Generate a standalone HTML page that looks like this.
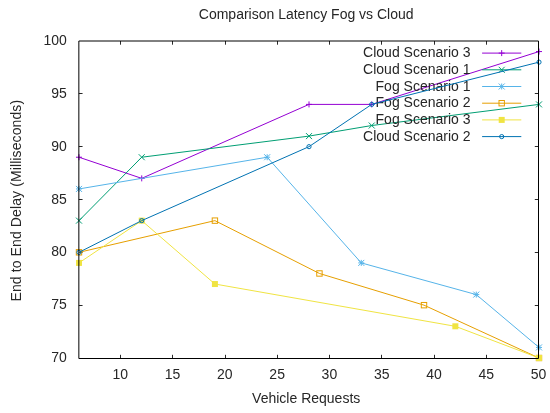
<!DOCTYPE html>
<html><head><meta charset="utf-8"><title>Comparison Latency Fog vs Cloud</title>
<style>html,body{margin:0;padding:0;background:#fff}svg{display:block}text{font-family:"Liberation Sans",Arial,sans-serif;font-size:14px;fill:#262626}</style></head><body>
<svg width="550" height="413" viewBox="0 0 550 413">
<rect width="550" height="413" fill="#fff"/>
<path d="M78.85,305.50h3.7M538.5,305.50h-3.7M78.85,252.50h3.7M538.5,252.50h-3.7M78.85,199.50h3.7M538.5,199.50h-3.7M78.85,146.50h3.7M538.5,146.50h-3.7M78.85,93.50h3.7M538.5,93.50h-3.7M120.50,358.5v-3.7M120.50,41.0v3.7M172.50,358.5v-3.7M172.50,41.0v3.7M225.50,358.5v-3.7M225.50,41.0v3.7M277.50,358.5v-3.7M277.50,41.0v3.7M329.50,358.5v-3.7M329.50,41.0v3.7M381.50,358.5v-3.7M381.50,41.0v3.7M434.50,358.5v-3.7M434.50,41.0v3.7M486.50,358.5v-3.7M486.50,41.0v3.7" stroke="#111" stroke-width="0.9" fill="none"/>
<text x="66.9" y="362.00" text-anchor="end">70</text>
<text x="66.9" y="309.17" text-anchor="end">75</text>
<text x="66.9" y="256.33" text-anchor="end">80</text>
<text x="66.9" y="203.50" text-anchor="end">85</text>
<text x="66.9" y="150.67" text-anchor="end">90</text>
<text x="66.9" y="97.83" text-anchor="end">95</text>
<text x="66.9" y="45.00" text-anchor="end">100</text>
<text x="120.32" y="379.3" text-anchor="middle">10</text>
<text x="172.59" y="379.3" text-anchor="middle">15</text>
<text x="224.86" y="379.3" text-anchor="middle">20</text>
<text x="277.14" y="379.3" text-anchor="middle">25</text>
<text x="329.41" y="379.3" text-anchor="middle">30</text>
<text x="381.68" y="379.3" text-anchor="middle">35</text>
<text x="433.95" y="379.3" text-anchor="middle">40</text>
<text x="486.23" y="379.3" text-anchor="middle">45</text>
<text x="538.50" y="379.3" text-anchor="middle">50</text>
<text x="306.2" y="19.4" text-anchor="middle">Comparison Latency Fog vs Cloud</text>
<text x="306.2" y="403.3" text-anchor="middle">Vehicle Requests</text>
<text transform="translate(21.1,200.7) rotate(-90)" text-anchor="middle" textLength="201.7" lengthAdjust="spacing">End to End Delay (Milliseconds)</text>
<text x="470.5" y="57.10" text-anchor="end">Cloud Scenario 3</text>
<path d="M482.1,53.10H521.3" stroke="#9400d3" fill="none"/>
<path d="M79.00,157.23L141.73,178.37L309.00,104.40L371.73,104.40L539.00,51.57" stroke="#9400d3" fill="none" stroke-linejoin="round"/>
<path d="M76.00,157.23H82.00M79.00,154.23V160.23" stroke="#9400d3" fill="none"/>
<path d="M138.73,178.37H144.73M141.73,175.37V181.37" stroke="#9400d3" fill="none"/>
<path d="M306.00,104.40H312.00M309.00,101.40V107.40" stroke="#9400d3" fill="none"/>
<path d="M368.73,104.40H374.73M371.73,101.40V107.40" stroke="#9400d3" fill="none"/>
<path d="M536.00,51.57H542.00M539.00,48.57V54.57" stroke="#9400d3" fill="none"/>
<path d="M498.70,53.10H504.70M501.70,50.10V56.10" stroke="#9400d3" fill="none"/>
<text x="470.5" y="73.80" text-anchor="end">Cloud Scenario 1</text>
<path d="M482.1,69.80H521.3" stroke="#009e73" fill="none"/>
<path d="M79.00,220.63L141.73,157.23L309.00,136.10L371.73,125.53L539.00,104.40" stroke="#009e73" fill="none" stroke-linejoin="round"/>
<path d="M76.00,217.63L82.00,223.63M76.00,223.63L82.00,217.63" stroke="#009e73" fill="none"/>
<path d="M138.73,154.23L144.73,160.23M138.73,160.23L144.73,154.23" stroke="#009e73" fill="none"/>
<path d="M306.00,133.10L312.00,139.10M306.00,139.10L312.00,133.10" stroke="#009e73" fill="none"/>
<path d="M368.73,122.53L374.73,128.53M368.73,128.53L374.73,122.53" stroke="#009e73" fill="none"/>
<path d="M536.00,101.40L542.00,107.40M536.00,107.40L542.00,101.40" stroke="#009e73" fill="none"/>
<path d="M498.70,66.80L504.70,72.80M498.70,72.80L504.70,66.80" stroke="#009e73" fill="none"/>
<text x="470.5" y="90.50" text-anchor="end">Fog Scenario 1</text>
<path d="M482.1,86.50H521.3" stroke="#56b4e9" fill="none"/>
<path d="M79.00,188.93L267.18,157.23L361.27,262.90L476.27,294.60L539.00,347.43" stroke="#56b4e9" fill="none" stroke-linejoin="round"/>
<path d="M76.00,188.93H82.00M79.00,185.93V191.93M76.00,185.93L82.00,191.93M76.00,191.93L82.00,185.93" stroke="#56b4e9" fill="none"/>
<path d="M264.18,157.23H270.18M267.18,154.23V160.23M264.18,154.23L270.18,160.23M264.18,160.23L270.18,154.23" stroke="#56b4e9" fill="none"/>
<path d="M358.27,262.90H364.27M361.27,259.90V265.90M358.27,259.90L364.27,265.90M358.27,265.90L364.27,259.90" stroke="#56b4e9" fill="none"/>
<path d="M473.27,294.60H479.27M476.27,291.60V297.60M473.27,291.60L479.27,297.60M473.27,297.60L479.27,291.60" stroke="#56b4e9" fill="none"/>
<path d="M536.00,347.43H542.00M539.00,344.43V350.43M536.00,344.43L542.00,350.43M536.00,350.43L542.00,344.43" stroke="#56b4e9" fill="none"/>
<path d="M498.70,86.50H504.70M501.70,83.50V89.50M498.70,83.50L504.70,89.50M498.70,89.50L504.70,83.50" stroke="#56b4e9" fill="none"/>
<text x="470.5" y="107.20" text-anchor="end">Fog Scenario 2</text>
<path d="M482.1,103.20H521.3" stroke="#e69f00" fill="none"/>
<path d="M79.00,252.33L214.91,220.63L319.45,273.47L424.00,305.17L539.00,358.00" stroke="#e69f00" fill="none" stroke-linejoin="round"/>
<rect x="76.30" y="249.63" width="5.40" height="5.40" stroke="#e69f00" fill="none"/>
<rect x="212.21" y="217.93" width="5.40" height="5.40" stroke="#e69f00" fill="none"/>
<rect x="316.75" y="270.77" width="5.40" height="5.40" stroke="#e69f00" fill="none"/>
<rect x="421.30" y="302.47" width="5.40" height="5.40" stroke="#e69f00" fill="none"/>
<rect x="536.30" y="355.30" width="5.40" height="5.40" stroke="#e69f00" fill="none"/>
<rect x="499.00" y="100.50" width="5.40" height="5.40" stroke="#e69f00" fill="none"/>
<text x="470.5" y="123.90" text-anchor="end">Fog Scenario 3</text>
<path d="M482.1,119.90H521.3" stroke="#f0e442" fill="none"/>
<path d="M79.00,262.90L141.73,220.63L214.91,284.03L455.36,326.30L539.00,358.00" stroke="#f0e442" fill="none" stroke-linejoin="round"/>
<rect x="76.00" y="259.90" width="6" height="6" fill="#f0e442"/>
<rect x="138.73" y="217.63" width="6" height="6" fill="#f0e442"/>
<rect x="211.91" y="281.03" width="6" height="6" fill="#f0e442"/>
<rect x="452.36" y="323.30" width="6" height="6" fill="#f0e442"/>
<rect x="536.00" y="355.00" width="6" height="6" fill="#f0e442"/>
<rect x="498.70" y="116.90" width="6" height="6" fill="#f0e442"/>
<text x="470.5" y="140.60" text-anchor="end">Cloud Scenario 2</text>
<path d="M482.1,136.60H521.3" stroke="#0072b2" fill="none"/>
<path d="M79.00,252.33L141.73,220.63L309.00,146.67L371.73,104.40L539.00,62.13" stroke="#0072b2" fill="none" stroke-linejoin="round"/>
<circle cx="79.00" cy="252.33" r="2.1" stroke="#0072b2" fill="none"/>
<circle cx="141.73" cy="220.63" r="2.1" stroke="#0072b2" fill="none"/>
<circle cx="309.00" cy="146.67" r="2.1" stroke="#0072b2" fill="none"/>
<circle cx="371.73" cy="104.40" r="2.1" stroke="#0072b2" fill="none"/>
<circle cx="539.00" cy="62.13" r="2.1" stroke="#0072b2" fill="none"/>
<circle cx="501.70" cy="136.60" r="2.1" stroke="#0072b2" fill="none"/>
<path d="M78.85,41.0V358.5H538.5V41.0Z" stroke="#000" stroke-width="1" fill="none"/>
</svg></body></html>
